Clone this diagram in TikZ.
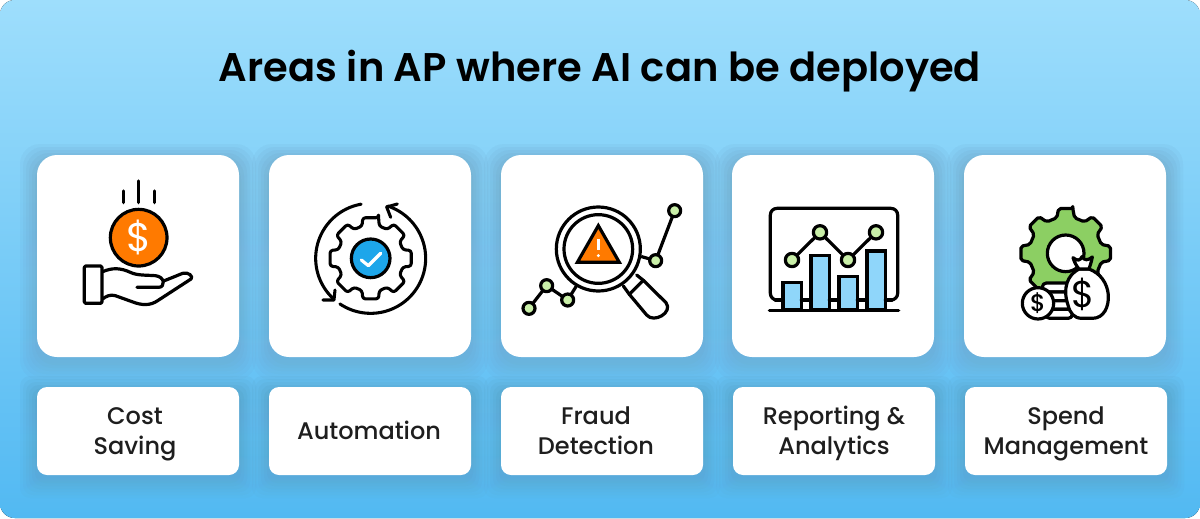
\documentclass[tikz,border=0pt]{standalone}
\usepackage{fontspec}
\setmainfont{Poppins}
\newfontfamily\titlefont{Poppins SemiBold}
\newfontfamily\labelfont{Poppins Medium}
\usetikzlibrary{calc}
\definecolor{bgtop}{HTML}{9EDEFC}
\definecolor{bgbot}{HTML}{52B9F2}
\definecolor{shade}{HTML}{2A78B0}
\definecolor{ink}{HTML}{000000}
\definecolor{txt}{HTML}{1E1E1E}
\definecolor{orng}{HTML}{FF7A00}
\definecolor{blu}{HTML}{1DA6EA}
\definecolor{pale}{HTML}{C9EFA8}
\definecolor{barb}{HTML}{8FD6FA}
\definecolor{grn}{HTML}{8CCF63}
\tikzset{
  ic/.style={draw=ink,line width=2.4pt,line join=round,line cap=round},
  icthin/.style={draw=ink,line width=2.3pt,line join=round,line cap=round},
  dot/.style={ic,fill=pale},
  lab/.style={font=\labelfont\fontsize{18}{22.5}\selectfont,text=txt,align=center,anchor=center},
  cardw/.style={fill=white,rounded corners=15pt},
  capw/.style={fill=white,rounded corners=7.5pt},
}
\newcommand{\softshadow}[5]{%
  \foreach \e in {2,5,8,11,14,17}{
    \fill[shade,opacity=0.016,rounded corners=#5]
      ({#1-\e},{#2-\e+6}) rectangle ({#3+\e},{#4+\e+6});
  }}
\newcommand{\gearpath}[6]{%
  ({#1+#3*cos(90-#5)},{#2-#3*sin(90-#5)})
  \foreach \k in {1,...,8}{
    -- ({#1+#3*cos(90+45*(\k-1)+#5)},{#2-#3*sin(90+45*(\k-1)+#5)})
    -- ({#1+#4*cos(90+45*(\k-1)+#6)},{#2-#4*sin(90+45*(\k-1)+#6)})
    -- ({#1+#4*cos(90+45*\k-#6)},{#2-#4*sin(90+45*\k-#6)})
    -- ({#1+#3*cos(90+45*\k-#5)},{#2-#3*sin(90+45*\k-#5)})
  } -- cycle}
\begin{document}
\begin{tikzpicture}[x=0.75pt,y=-0.75pt]
\useasboundingbox (0,0) rectangle (1200,518);
\fill[top color=bgtop,bottom color=bgbot,rounded corners=11pt] (0,0) rectangle (1200,518);
\node[font=\titlefont\fontsize{30}{36}\selectfont,text=black,anchor=center] (title) at (600,71) {Areas in AP where AI can be deployed};

% shadows
\softshadow{37}{155}{239}{357}{15pt}
\softshadow{269}{155}{471}{357}{15pt}
\softshadow{501}{155}{703}{357}{15pt}
\softshadow{732}{155}{934}{357}{15pt}
\softshadow{964}{155}{1166}{357}{15pt}
\softshadow{37}{387}{239}{475}{7.5pt}
\softshadow{269}{387}{471}{475}{7.5pt}
\softshadow{501}{387}{703}{475}{7.5pt}
\softshadow{733}{387}{935}{475}{7.5pt}
\softshadow{965}{387}{1167}{475}{7.5pt}
% cards
\fill[cardw] (37,155) rectangle (239,357);
\fill[cardw] (269,155) rectangle (471,357);
\fill[cardw] (501,155) rectangle (703,357);
\fill[cardw] (732,155) rectangle (934,357);
\fill[cardw] (964,155) rectangle (1166,357);
\fill[capw] (37,387) rectangle (239,475);
\fill[capw] (269,387) rectangle (471,475);
\fill[capw] (501,387) rectangle (703,475);
\fill[capw] (733,387) rectangle (935,475);
\fill[capw] (965,387) rectangle (1167,475);
% labels
\node[lab] (l1) at (135,434) {Cost\\Saving};
\node[lab] (l2) at (369,430) {Automation};
\node[lab] (l3) at (596,431) {Fraud\\Detection};
\node[lab] (l4) at (834,433) {Reporting \&\\Analytics};
\node[lab] (l5) at (1066,433.5) {Spend\\Management};

% icon 1
\begin{scope}[shift={(37,155)},x=0.25pt,y=-0.25pt]
\draw[ic] (305,78) -- (305,143);
\draw[ic] (259,108) -- (259,143);
\draw[ic] (352,108) -- (352,143);
\draw[ic,fill=orng] (305,248) circle[radius=85];
\node[font=\fontsize{30}{30}\selectfont,text=white] (d1) at (305,248) {\$};
\draw[ic,rounded corners=1pt] (142,333) rectangle (195,445);
\draw[ic] (197,350) .. controls (225,338) and (250,338) .. (280,352)
  .. controls (300,362) and (330,360) .. (355,362)
  .. controls (385,365) and (385,397) .. (365,397) -- (300,397);
\draw[ic] (380,378) -- (437,355) .. controls (455,350) and (470,365) .. (462,372)
  -- (362,437) .. controls (340,452) and (315,452) .. (285,440)
  -- (235,422) .. controls (220,417) and (205,425) .. (197,432);
\end{scope}

% icon 2
\begin{scope}[shift={(269,155)},x=0.25pt,y=-0.25pt]
\draw[icthin,rounded corners=2pt] \gearpath{305}{310}{124}{100}{11}{15};
\draw[ic,fill=blu] (305,310) circle[radius=58];
\draw[draw=white,line width=2.4pt,line cap=round,line join=round] (277,315) -- (298,332) -- (335,295);
\draw[icthin] plot[domain=100:226,samples=40] ({305+165*cos(\x)},{310-165*sin(\x)});
\draw[icthin] (198,405) -- (195,435) -- (162,435);
\draw[icthin] plot[domain=236:432,samples=60] ({305+165*cos(\x)},{310-165*sin(\x)});
\draw[icthin] (385,147) -- (353,156) -- (365,187);
\end{scope}

% icon 3
\begin{scope}[shift={(500,155)},x=0.25pt,y=-0.25pt]
\draw[ic] (87,460) -- (140,392) -- (203,435) -- (228,395);
\draw[ic] (425,305) -- (467,317) -- (524,167);
\draw[dot] (87,460) circle[radius=18];
\draw[dot] (140,392) circle[radius=18];
\draw[dot] (203,435) circle[radius=18];
\draw[dot] (467,317) circle[radius=18];
\draw[dot] (524,167) circle[radius=18];
\draw[ic] (295,282) circle[radius=126];
\draw[ic] (295,282) circle[radius=103];
\draw[ic,fill=orng,line join=miter] (295,212) -- (232,322) -- (358,322) -- cycle;
\draw[draw=white,line width=2.2pt] (295,252) -- (295,285);
\fill[white] (295,302) circle[radius=5];
\draw[ic] (370,393) -- (388,418);
\draw[ic] (410,360) -- (430,376);
\draw[ic] (388,418) -- (440,480) .. controls (462,506) and (520,472) .. (498,443) -- (430,376) -- cycle;
\end{scope}

% icon 4
\begin{scope}[shift={(732,155)},x=0.25pt,y=-0.25pt]
\draw[ic,rounded corners=5pt] (115,435) rectangle (497,160);
\draw[ic] (180,315) -- (264,232) -- (348,315) -- (432,232);
\draw[dot] (180,315) circle[radius=20];
\draw[dot] (264,232) circle[radius=20];
\draw[dot] (348,315) circle[radius=20];
\draw[dot] (432,232) circle[radius=20];
\fill[white] (140,425) rectangle (472,445);
\draw[ic,fill=barb,line join=miter] (153,465) rectangle (208,382);
\draw[ic,fill=barb,line join=miter] (237,465) rectangle (292,302);
\draw[ic,fill=barb,line join=miter] (321,465) rectangle (376,365);
\draw[ic,fill=barb,line join=miter] (405,465) rectangle (460,288);
\draw[ic] (130,435) -- (153,435) (208,435) -- (237,435) (292,435) -- (321,435) (376,435) -- (405,435) (460,435) -- (480,435);
\draw[ic] (112,467) -- (500,467);
\end{scope}

% icon 5
\begin{scope}[shift={(964,155)},x=0.25pt,y=-0.25pt]
\draw[ic,fill=grn,rounded corners=1.5pt] \gearpath{305}{295}{136}{110}{9}{14};
\draw[ic,fill=white] (305,295) circle[radius=55];
% coin stack
\draw[ic,fill=white,rounded corners=3pt] (235,384) rectangle (325,411);
\draw[ic,fill=white,rounded corners=3pt] (245,411) rectangle (325,437);
\draw[ic,fill=white,rounded corners=3pt] (245,437) rectangle (325,463);
\draw[ic,fill=white,rounded corners=3pt] (245,463) rectangle (325,490);
\draw[ic,fill=white] (222,445) circle[radius=47];
\node[font=\labelfont\fontsize{18}{18}\selectfont,text=black] (d2) at (222,445) {\$};
% bag
\draw[ic,fill=white] (345,342) .. controls (310,360) and (295,400) .. (312,450)
  .. controls (318,475) and (330,490) .. (355,490)
  -- (385,490) .. controls (420,490) and (435,455) .. (433,420)
  .. controls (430,385) and (410,355) .. (375,342) -- cycle;
\draw[ic,fill=white] (345,342) .. controls (335,330) and (330,318) .. (327,308)
  .. controls (340,318) and (348,318) .. (354,305)
  .. controls (362,318) and (372,316) .. (385,306)
  .. controls (382,322) and (378,332) .. (375,342) -- cycle;
\node[font=\fontsize{28}{28}\selectfont,text=black] (d3) at (356,418) {\$};
\end{scope}
\end{tikzpicture}
\end{document}
